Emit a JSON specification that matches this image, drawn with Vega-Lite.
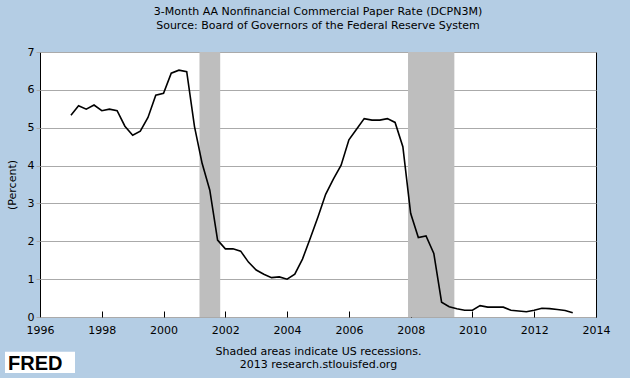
{
  "$schema": "https://vega.github.io/schema/vega-lite/v6.json",
  "width": 556,
  "height": 265,
  "autosize": "none",
  "padding": {"left": 40, "top": 52, "right": 34, "bottom": 61},
  "background": "#b4cde4",
  "config": {
    "font": "DejaVu Sans",
    "view": {"stroke": "#000000", "strokeWidth": 1, "fill": "#ffffff"},
    "axis": {"labelFont": "DejaVu Sans", "titleFont": "DejaVu Sans", "labelFontSize": 11, "titleFontSize": 11, "titleFontWeight": "normal", "labelColor": "#000000", "titleColor": "#000000", "domain": false},
    "axisY": {"values": [0, 1, 2, 3, 4, 5, 6, 7], "grid": true, "gridColor": "#aaaaaa", "gridOpacity": 1, "tickSize": 4, "tickColor": "#aaaaaa", "labelPadding": 2, "titlePadding": 10, "labelOverlap": false}
  },
  "title": {
    "text": ["3-Month AA Nonfinancial Commercial Paper Rate (DCPN3M)", "Source: Board of Governors of the Federal Reserve System"],
    "fontSize": 11, "fontWeight": "normal", "color": "#000000", "anchor": "middle", "offset": 15, "lineHeight": 14, "font": "DejaVu Sans"
  },
  "datasets": {
    "recessions": [
      {"start": "2001-03-01", "end": "2001-11-01"},
      {"start": "2007-12-01", "end": "2009-06-01"}
    ],
    "series": [
      {"date": "1997-01-01", "rate": 5.33}, {"date": "1997-04-01", "rate": 5.58}, {"date": "1997-07-01", "rate": 5.49}, {"date": "1997-10-01", "rate": 5.60},
      {"date": "1998-01-01", "rate": 5.45}, {"date": "1998-04-01", "rate": 5.49}, {"date": "1998-07-01", "rate": 5.45}, {"date": "1998-10-01", "rate": 5.04},
      {"date": "1999-01-01", "rate": 4.80}, {"date": "1999-04-01", "rate": 4.91}, {"date": "1999-07-01", "rate": 5.27}, {"date": "1999-10-01", "rate": 5.86},
      {"date": "2000-01-01", "rate": 5.91}, {"date": "2000-04-01", "rate": 6.44}, {"date": "2000-07-01", "rate": 6.52}, {"date": "2000-10-01", "rate": 6.48},
      {"date": "2001-01-01", "rate": 5.03}, {"date": "2001-04-01", "rate": 4.06}, {"date": "2001-07-01", "rate": 3.35}, {"date": "2001-10-01", "rate": 2.03},
      {"date": "2002-01-01", "rate": 1.80}, {"date": "2002-04-01", "rate": 1.80}, {"date": "2002-07-01", "rate": 1.74}, {"date": "2002-10-01", "rate": 1.45},
      {"date": "2003-01-01", "rate": 1.24}, {"date": "2003-04-01", "rate": 1.13}, {"date": "2003-07-01", "rate": 1.04}, {"date": "2003-10-01", "rate": 1.06},
      {"date": "2004-01-01", "rate": 1.00}, {"date": "2004-04-01", "rate": 1.13}, {"date": "2004-07-01", "rate": 1.53}, {"date": "2004-10-01", "rate": 2.08},
      {"date": "2005-01-01", "rate": 2.65}, {"date": "2005-04-01", "rate": 3.24}, {"date": "2005-07-01", "rate": 3.64}, {"date": "2005-10-01", "rate": 4.01},
      {"date": "2006-01-01", "rate": 4.68}, {"date": "2006-04-01", "rate": 4.96}, {"date": "2006-07-01", "rate": 5.24}, {"date": "2006-10-01", "rate": 5.20},
      {"date": "2007-01-01", "rate": 5.20}, {"date": "2007-04-01", "rate": 5.24}, {"date": "2007-07-01", "rate": 5.14}, {"date": "2007-10-01", "rate": 4.50},
      {"date": "2008-01-01", "rate": 2.74}, {"date": "2008-04-01", "rate": 2.10}, {"date": "2008-07-01", "rate": 2.14}, {"date": "2008-10-01", "rate": 1.68},
      {"date": "2009-01-01", "rate": 0.39}, {"date": "2009-04-01", "rate": 0.27}, {"date": "2009-07-01", "rate": 0.22}, {"date": "2009-10-01", "rate": 0.18},
      {"date": "2010-01-01", "rate": 0.18}, {"date": "2010-04-01", "rate": 0.30}, {"date": "2010-07-01", "rate": 0.26}, {"date": "2010-10-01", "rate": 0.26},
      {"date": "2011-01-01", "rate": 0.26}, {"date": "2011-04-01", "rate": 0.18}, {"date": "2011-07-01", "rate": 0.16}, {"date": "2011-10-01", "rate": 0.14},
      {"date": "2012-01-01", "rate": 0.18}, {"date": "2012-04-01", "rate": 0.23}, {"date": "2012-07-01", "rate": 0.22}, {"date": "2012-10-01", "rate": 0.20},
      {"date": "2013-01-01", "rate": 0.17}, {"date": "2013-04-01", "rate": 0.11}
    ],
    "logo": [{"label": "FRED", "x0": "1994-11-13", "x1": "1997-02-18", "y0": -0.92, "y1": -1.48, "tx": "1994-12-20", "ty": -1.24}]
  },
  "layer": [
    {
      "data": {"name": "recessions"},
      "mark": {"type": "rect", "color": "#bebebe"},
      "encoding": {
        "x": {
          "field": "start", "type": "temporal",
          "scale": {"type": "utc", "domain": [{"year": 1996, "utc": true}, {"year": 2014, "utc": true}]},
          "axis": {
            "format": "%Y",
            "values": [{"year": 1996, "utc": true}, {"year": 1998, "utc": true}, {"year": 2000, "utc": true}, {"year": 2002, "utc": true}, {"year": 2004, "utc": true}, {"year": 2006, "utc": true}, {"year": 2008, "utc": true}, {"year": 2010, "utc": true}, {"year": 2012, "utc": true}, {"year": 2014, "utc": true}],
            "grid": false, "tickSize": -6, "tickColor": "#000000", "labelPadding": 13,
            "labelFlush": false, "labelOverlap": false,
            "title": ["Shaded areas indicate US recessions.", "2013 research.stlouisfed.org"],
            "titlePadding": 10, "titleLineHeight": 13
          }
        },
        "x2": {"field": "end"}
      }
    },
    {
      "data": {"name": "series"},
      "mark": {"type": "line", "color": "#000000", "strokeWidth": 1.6},
      "encoding": {
        "x": {"field": "date", "type": "temporal"},
        "y": {
          "field": "rate", "type": "quantitative",
          "scale": {"domain": [0, 7], "nice": false, "zero": true},
          "axis": {"values": [0, 1, 2, 3, 4, 5, 6, 7], "title": "(Percent)"}
        }
      }
    },
    {
      "data": {"name": "logo"},
      "mark": {"type": "rect", "fill": "#ffffff", "clip": false},
      "encoding": {
        "x": {"field": "x0", "type": "temporal"},
        "x2": {"field": "x1"},
        "y": {"field": "y0", "type": "quantitative", "axis": {"values": [0, 1, 2, 3, 4, 5, 6, 7], "title": "(Percent)"}},
        "y2": {"field": "y1"}
      }
    },
    {
      "data": {"name": "logo"},
      "mark": {"type": "text", "font": "Liberation Sans", "fontWeight": "bold", "fontSize": 20, "align": "left", "baseline": "middle", "clip": false, "color": "#000000"},
      "encoding": {
        "x": {"field": "tx", "type": "temporal"},
        "y": {"field": "ty", "type": "quantitative", "axis": {"values": [0, 1, 2, 3, 4, 5, 6, 7], "title": "(Percent)"}},
        "text": {"field": "label"}
      }
    }
  ]
}
